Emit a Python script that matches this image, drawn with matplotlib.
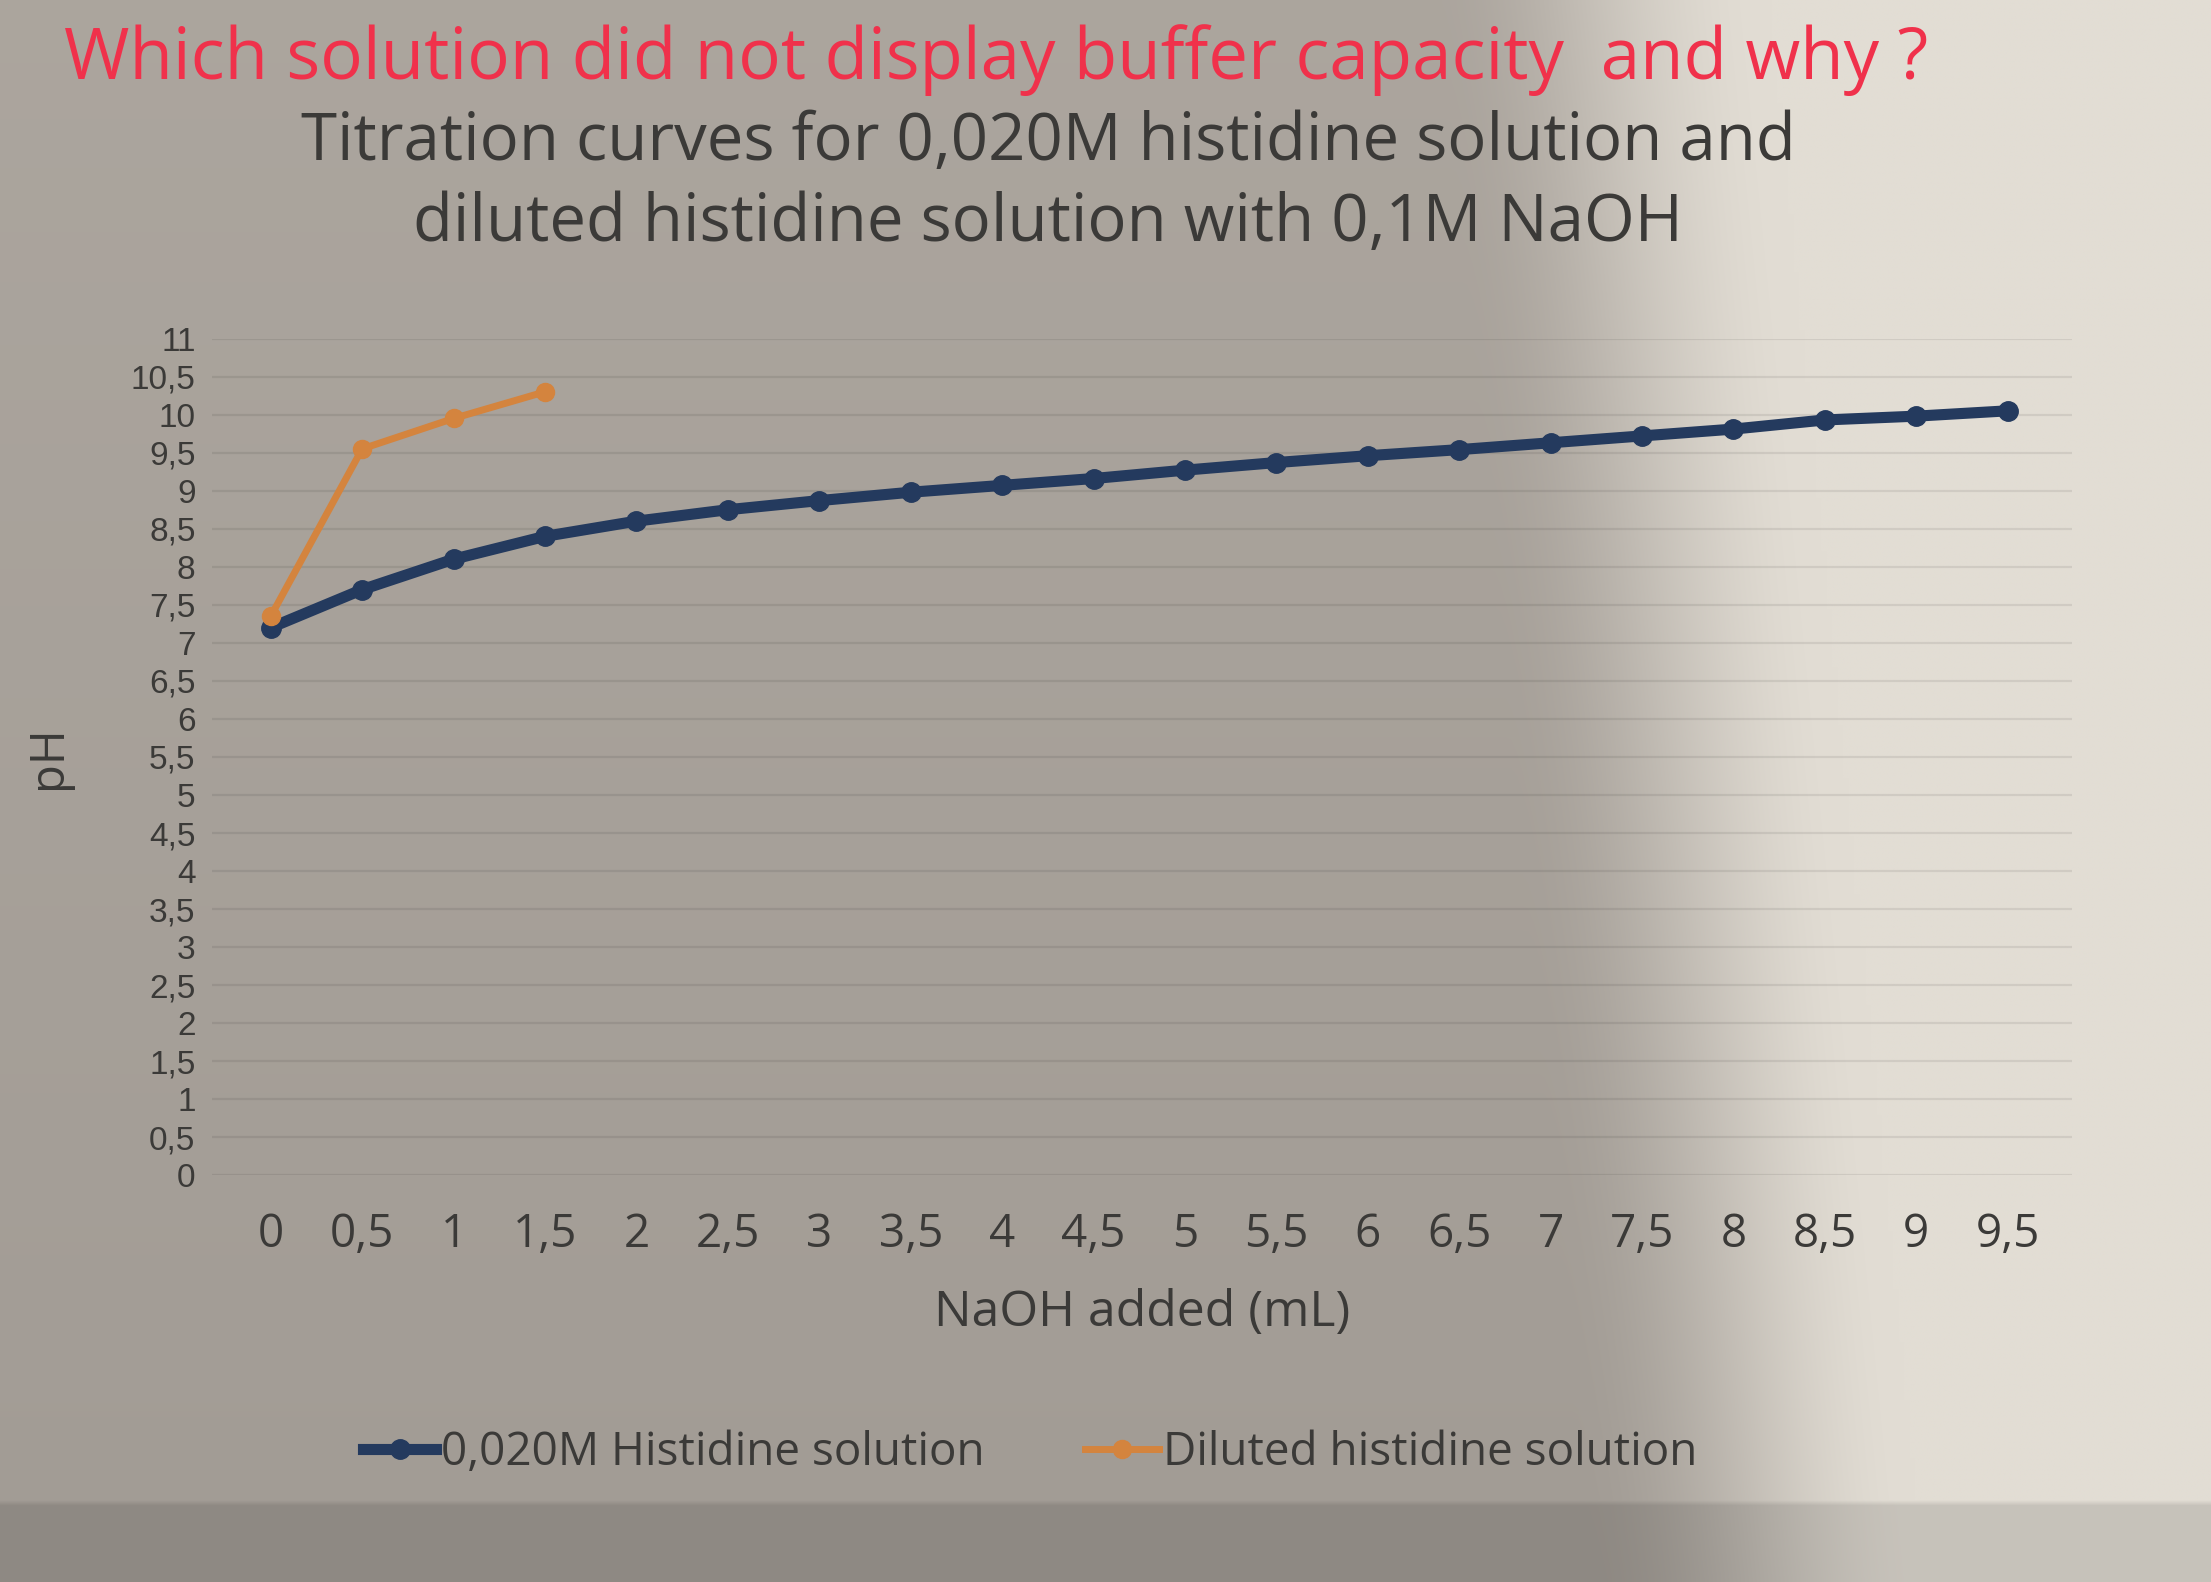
import numpy as np
import matplotlib.pyplot as plt
from matplotlib.ticker import FixedLocator

# Data
naoh_ml = [0, 0.5, 1, 1.5, 2, 2.5, 3, 3.5, 4, 4.5, 5, 5.5, 6, 6.5, 7, 7.5, 8, 8.5, 9, 9.5]
ph_histidine = [7.2, 7.7, 8.1, 8.4, 8.6, 8.75, 8.87, 8.98, 9.07, 9.16,
                9.27, 9.37, 9.46, 9.54, 9.63, 9.72, 9.81, 9.93, 9.98, 10.05]
naoh_diluted = [0, 0.5, 1, 1.5]
ph_diluted = [7.35, 9.55, 9.95, 10.3]

y_ticks = np.arange(0, 11.01, 0.5)
x_ticks = naoh_ml

blue = '#243a5e'
orange = '#d4843e'
text_col = '#3b3a38'

plt.rcParams['font.family'] = ['Open Sans', 'DejaVu Sans']

fig = plt.figure(figsize=(22.11, 15.82), dpi=100)

# paper background with the shadow of the photo
bg = fig.add_axes([0, 0, 1, 1], zorder=-10)
bg.axis('off')
xx, yy = np.meshgrid(np.linspace(0, 1, 400), np.linspace(0, 1, 300))
t = np.clip((xx - 0.65 - 0.07 * yy) / 0.15, 0, 1)
t = t * t * (3 - 2 * t)
dark = np.array([162, 156, 149]) / 255
light = np.array([226, 221, 212]) / 255
img = dark[None, None, :] * (1 - t[..., None]) + light[None, None, :] * t[..., None]
img = img * (1 + 0.06 * (1 - yy[..., None]) * (1 - t[..., None]))
img = img * np.where(yy[..., None] > 0.95, 0.88, 1.0)
bg.imshow(np.clip(img, 0, 1), aspect='auto', extent=[0, 1, 0, 1], interpolation='bilinear')
bg.set_xlim(0, 1)
bg.set_ylim(0, 1)

ax = fig.add_axes([0.096, 0.257, 0.841, 0.529])
ax.set_facecolor('none')

ax.plot(naoh_ml, ph_histidine, '-o', color=blue, lw=8, ms=14,
        label='0,020M Histidine solution')
ax.plot(naoh_diluted, ph_diluted, '-o', color=orange, lw=5, ms=13,
        label='Diluted histidine solution')

ax.set_xlim(-0.32, 9.85)
ax.set_ylim(0, 11)
ax.yaxis.set_major_locator(FixedLocator(y_ticks))
ax.set_yticklabels([('%g' % v).replace('.', ',') for v in y_ticks],
                   family='Liberation Sans')
ax.xaxis.set_major_locator(FixedLocator(x_ticks))
ax.set_xticklabels([('%g' % v).replace('.', ',') for v in x_ticks])
ax.tick_params(length=0, labelcolor=text_col)
ax.tick_params(axis='y', pad=12, labelsize=24)
ax.tick_params(axis='x', pad=26, labelsize=33)
ax.grid(axis='y', color='#000000', alpha=0.08, lw=1.6)
for s in ax.spines.values():
    s.set_visible(False)

ax.set_xlabel('NaOH added (mL)', fontsize=36, color=text_col, labelpad=22)
ax.set_ylabel('pH', fontsize=34, color=text_col, labelpad=42)

ax.legend(loc='upper center', bbox_to_anchor=(0.44, -0.255), ncol=2, frameon=False,
          fontsize=33, handlelength=1.6, handletextpad=0.1, columnspacing=2.2,
          labelcolor=text_col)

fig.text(0.474, 0.884, 'Titration curves for 0,020M histidine solution and\n'
         'diluted histidine solution with 0,1M NaOH',
         ha='center', va='center', fontsize=47, color=text_col, linespacing=1.3)

fig.text(0.029, 0.962, 'Which solution did not display buffer capacity  and why ?',
         ha='left', va='center', fontsize=51, color='#f0314b')

fig.savefig('out.png', dpi=100)
